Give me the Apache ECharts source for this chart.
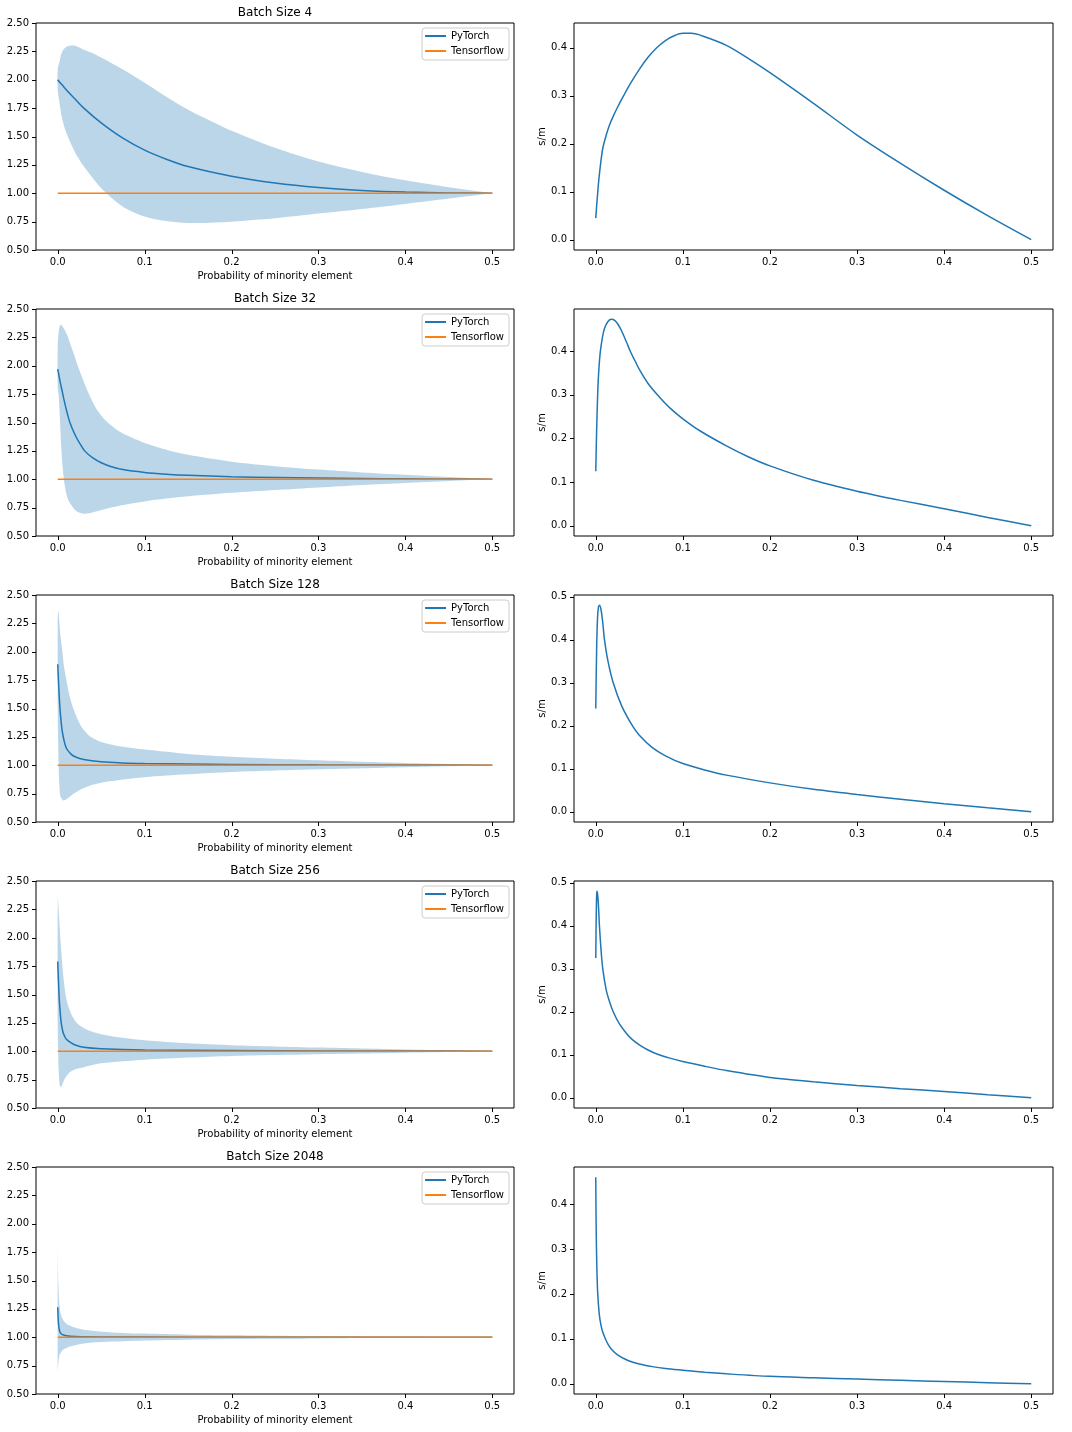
<!DOCTYPE html>
<html><head><meta charset="utf-8">
<script src="https://cdn.jsdelivr.net/npm/echarts@6/dist/echarts.min.js"></script>
<style>html,body{margin:0;padding:0;background:#fff}#c{width:1072px;height:1432px}</style>
</head><body><div id="c"></div>
<script>
// ---------- data ----------
const batchSizes = [4, 32, 128, 256, 2048];
const xTickValues = [0, 0.1, 0.2, 0.3, 0.4, 0.5];
const leftYTickValues = [0.5, 0.75, 1.0, 1.25, 1.5, 1.75, 2.0, 2.25, 2.5];
const rightYTickValues = [0, 0.1, 0.2, 0.3, 0.4, 0.5];
const tfX = [0, 0.5];
const tfY = [1.0, 1.0];

// Batch size 4
const bs4MeanX = [0, 0.002, 0.005, 0.01, 0.02, 0.03, 0.05, 0.075, 0.1, 0.125, 0.15, 0.2, 0.25, 0.3, 0.35, 0.4, 0.45, 0.5];
const bs4Mean  = [2.0, 1.98, 1.955, 1.91, 1.83, 1.75, 1.62, 1.485, 1.38, 1.30, 1.235, 1.15, 1.09, 1.05, 1.025, 1.01, 1.003, 1.0];
const bs4BandX = [0, 0.002, 0.005, 0.01, 0.02, 0.03, 0.04, 0.05, 0.075, 0.1, 0.125, 0.15, 0.175, 0.2, 0.25, 0.3, 0.35, 0.4, 0.45, 0.5];
const bs4Upper = [2.09, 2.16, 2.245, 2.29, 2.30, 2.265, 2.235, 2.195, 2.09, 1.973, 1.85, 1.735, 1.64, 1.55, 1.40, 1.279, 1.188, 1.114, 1.053, 1.0];
const bs4Lower = [1.91, 1.80, 1.66, 1.53, 1.36, 1.237, 1.136, 1.045, 0.882, 0.795, 0.755, 0.738, 0.741, 0.75, 0.78, 0.821, 0.862, 0.906, 0.953, 1.0];
const bs4RatioX = [0, 0.001, 0.003, 0.005, 0.008, 0.012, 0.016, 0.02, 0.025, 0.032, 0.04, 0.05, 0.06, 0.07, 0.08, 0.09, 0.1, 0.11, 0.125, 0.15, 0.175, 0.2, 0.25, 0.3, 0.35, 0.4, 0.45, 0.5];
const bs4Ratio  = [0.045, 0.07, 0.115, 0.15, 0.19, 0.218, 0.24, 0.257, 0.276, 0.30, 0.326, 0.355, 0.38, 0.40, 0.415, 0.425, 0.43, 0.43, 0.423, 0.405, 0.378, 0.348, 0.284, 0.218, 0.159, 0.103, 0.05, 0.0];

// Batch size 32
const bs32MeanX = [0, 0.001, 0.002, 0.003, 0.005, 0.0075, 0.01, 0.014, 0.02, 0.025, 0.031, 0.04, 0.05, 0.06, 0.075, 0.1, 0.125, 0.15, 0.2, 0.25, 0.3, 0.35, 0.4, 0.45, 0.5];
const bs32Mean  = [1.97, 1.93, 1.89, 1.85, 1.78, 1.69, 1.61, 1.50, 1.39, 1.32, 1.25, 1.19, 1.145, 1.115, 1.085, 1.06, 1.045, 1.035, 1.022, 1.016, 1.011, 1.007, 1.004, 1.002, 1.0];
const bs32BandX = [0, 0.001, 0.002, 0.003, 0.004, 0.005, 0.0065, 0.008, 0.01, 0.012, 0.015, 0.02, 0.023, 0.03, 0.036, 0.045, 0.056, 0.07, 0.085, 0.1, 0.125, 0.15, 0.2, 0.25, 0.3, 0.35, 0.4, 0.45, 0.5];
const bs32Upper = [2.18, 2.29, 2.34, 2.36, 2.358, 2.35, 2.335, 2.315, 2.285, 2.25, 2.18, 2.07, 2.0, 1.86, 1.75, 1.615, 1.51, 1.425, 1.367, 1.32, 1.26, 1.215, 1.155, 1.115, 1.085, 1.06, 1.04, 1.02, 1.0];
const bs32Lower = [1.80, 1.75, 1.62, 1.45, 1.29, 1.17, 1.04, 0.95, 0.87, 0.82, 0.78, 0.728, 0.712, 0.697, 0.70, 0.718, 0.74, 0.765, 0.787, 0.805, 0.83, 0.85, 0.88, 0.905, 0.928, 0.95, 0.968, 0.985, 1.0];
const bs32RatioX = [0, 0.001, 0.002, 0.003, 0.005, 0.0075, 0.01, 0.014, 0.018, 0.022, 0.026, 0.03, 0.035, 0.04, 0.045, 0.05, 0.06, 0.073, 0.085, 0.1, 0.12, 0.15, 0.175, 0.2, 0.25, 0.3, 0.35, 0.4, 0.45, 0.5];
const bs32Ratio  = [0.125, 0.22, 0.29, 0.34, 0.395, 0.43, 0.452, 0.468, 0.473, 0.47, 0.46, 0.445, 0.422, 0.398, 0.378, 0.358, 0.326, 0.295, 0.27, 0.245, 0.217, 0.183, 0.158, 0.137, 0.104, 0.079, 0.058, 0.039, 0.019, 0.0];

// Batch size 128
const bs128MeanX = [0, 0.001, 0.002, 0.003, 0.005, 0.0075, 0.01, 0.015, 0.02, 0.03, 0.05, 0.075, 0.1, 0.15, 0.2, 0.3, 0.4, 0.5];
const bs128Mean  = [1.89, 1.72, 1.57, 1.46, 1.31, 1.21, 1.15, 1.10, 1.075, 1.05, 1.03, 1.02, 1.015, 1.01, 1.007, 1.004, 1.002, 1.0];
const bs128BandX = [0, 0.0005, 0.001, 0.002, 0.003, 0.0054, 0.007, 0.01, 0.014, 0.018, 0.021, 0.025, 0.03, 0.037, 0.045, 0.05, 0.06, 0.075, 0.1, 0.15, 0.2, 0.25, 0.3, 0.35, 0.4, 0.45, 0.5];
const bs128Upper = [2.30, 2.36, 2.34, 2.25, 2.15, 2.00, 1.88, 1.75, 1.60, 1.50, 1.44, 1.37, 1.31, 1.255, 1.22, 1.205, 1.185, 1.162, 1.138, 1.10, 1.075, 1.058, 1.044, 1.03, 1.019, 1.009, 1.0];
const bs128Lower = [1.48, 1.20, 1.00, 0.80, 0.73, 0.695, 0.69, 0.70, 0.725, 0.75, 0.763, 0.78, 0.80, 0.82, 0.836, 0.845, 0.858, 0.875, 0.895, 0.92, 0.94, 0.953, 0.964, 0.974, 0.983, 0.991, 1.0];
const bs128RatioX = [0, 0.001, 0.002, 0.003, 0.0042, 0.006, 0.008, 0.01, 0.014, 0.02, 0.03, 0.042, 0.05, 0.065, 0.08, 0.1, 0.125, 0.15, 0.2, 0.25, 0.3, 0.35, 0.4, 0.45, 0.5];
const bs128Ratio  = [0.24, 0.38, 0.45, 0.475, 0.48, 0.47, 0.44, 0.40, 0.35, 0.30, 0.245, 0.20, 0.178, 0.149, 0.13, 0.112, 0.097, 0.085, 0.067, 0.052, 0.04, 0.029, 0.0185, 0.009, 0.0];

// Batch size 256
const bs256MeanX = [0, 0.0005, 0.001, 0.0015, 0.002, 0.003, 0.004, 0.006, 0.008, 0.01, 0.015, 0.02, 0.03, 0.05, 0.1, 0.2, 0.3, 0.4, 0.5];
const bs256Mean  = [1.79, 1.69, 1.59, 1.50, 1.43, 1.33, 1.25, 1.17, 1.13, 1.105, 1.075, 1.055, 1.035, 1.022, 1.011, 1.006, 1.003, 1.002, 1.0];
const bs256BandX = [0, 0.0005, 0.001, 0.002, 0.003, 0.0042, 0.0054, 0.007, 0.009, 0.012, 0.016, 0.022, 0.026, 0.03, 0.035, 0.04, 0.05, 0.062, 0.075, 0.1, 0.15, 0.2, 0.25, 0.3, 0.35, 0.4, 0.45, 0.5];
const bs256Upper = [2.36, 2.32, 2.25, 2.12, 2.00, 1.87, 1.75, 1.62, 1.50, 1.40, 1.32, 1.25, 1.225, 1.205, 1.186, 1.172, 1.15, 1.133, 1.12, 1.097, 1.07, 1.053, 1.042, 1.032, 1.024, 1.016, 1.008, 1.0];
const bs256Lower = [1.22, 1.00, 0.85, 0.72, 0.685, 0.69, 0.71, 0.74, 0.77, 0.80, 0.825, 0.845, 0.853, 0.86, 0.87, 0.879, 0.894, 0.904, 0.912, 0.926, 0.945, 0.959, 0.967, 0.974, 0.98, 0.987, 0.993, 1.0];
const bs256RatioX = [0, 0.0005, 0.001, 0.0015, 0.002, 0.003, 0.0042, 0.006, 0.008, 0.012, 0.016, 0.02, 0.027, 0.035, 0.042, 0.05, 0.06, 0.071, 0.085, 0.1, 0.125, 0.15, 0.2, 0.25, 0.3, 0.35, 0.4, 0.45, 0.5];
const bs256Ratio  = [0.325, 0.42, 0.47, 0.48, 0.475, 0.45, 0.40, 0.345, 0.30, 0.25, 0.222, 0.20, 0.172, 0.15, 0.135, 0.123, 0.111, 0.101, 0.092, 0.084, 0.073, 0.063, 0.047, 0.037, 0.0285, 0.021, 0.0145, 0.007, 0.0];

// Batch size 2048
const bs2048MeanX = [0, 0.0003, 0.0006, 0.001, 0.002, 0.003, 0.005, 0.01, 0.02, 0.05, 0.1, 0.2, 0.3, 0.4, 0.5];
const bs2048Mean  = [1.265, 1.20, 1.15, 1.11, 1.06, 1.04, 1.025, 1.013, 1.007, 1.003, 1.0015, 1.0008, 1.0004, 1.0002, 1.0];
const bs2048BandX = [0, 0.0003, 0.0008, 0.002, 0.004, 0.006, 0.01, 0.015, 0.02, 0.03, 0.05, 0.075, 0.1, 0.15, 0.2, 0.25, 0.3, 0.35, 0.4, 0.45, 0.5];
const bs2048Upper = [1.83, 1.62, 1.45, 1.28, 1.19, 1.155, 1.12, 1.10, 1.085, 1.065, 1.048, 1.038, 1.032, 1.023, 1.017, 1.013, 1.01, 1.007, 1.005, 1.002, 1.0];
const bs2048Lower = [0.69, 0.74, 0.78, 0.84, 0.87, 0.89, 0.905, 0.92, 0.93, 0.945, 0.958, 0.965, 0.971, 0.978, 0.984, 0.987, 0.99, 0.993, 0.996, 0.998, 1.0];
const bs2048RatioX = [0, 0.0003, 0.0008, 0.002, 0.004, 0.006, 0.008, 0.011, 0.014, 0.018, 0.025, 0.037, 0.05, 0.065, 0.08, 0.1, 0.125, 0.15, 0.2, 0.25, 0.3, 0.35, 0.4, 0.45, 0.5];
const bs2048Ratio  = [0.46, 0.38, 0.30, 0.21, 0.155, 0.13, 0.115, 0.10, 0.088, 0.0765, 0.064, 0.0516, 0.0438, 0.038, 0.0338, 0.030, 0.0255, 0.022, 0.0163, 0.0132, 0.0104, 0.0075, 0.0048, 0.0022, 0.0];

const panels = [
  {meanX: bs4MeanX, mean: bs4Mean, bandX: bs4BandX, upper: bs4Upper, lower: bs4Lower, ratioX: bs4RatioX, ratio: bs4Ratio},
  {meanX: bs32MeanX, mean: bs32Mean, bandX: bs32BandX, upper: bs32Upper, lower: bs32Lower, ratioX: bs32RatioX, ratio: bs32Ratio},
  {meanX: bs128MeanX, mean: bs128Mean, bandX: bs128BandX, upper: bs128Upper, lower: bs128Lower, ratioX: bs128RatioX, ratio: bs128Ratio},
  {meanX: bs256MeanX, mean: bs256Mean, bandX: bs256BandX, upper: bs256Upper, lower: bs256Lower, ratioX: bs256RatioX, ratio: bs256Ratio},
  {meanX: bs2048MeanX, mean: bs2048Mean, bandX: bs2048BandX, upper: bs2048Upper, lower: bs2048Lower, ratioX: bs2048RatioX, ratio: bs2048Ratio}
];

// ---------- layout / style ----------
const FONT = 'DejaVu Sans';
const BLUE = '#1f77b4', ORANGE = '#ff7f0e', BAND = 'rgba(31,119,180,0.3)';
const rowTops = [23, 309, 595, 881, 1167];
const plotH = 227;
const TICK_LEN = 4;
const leftL = 36, leftW = 478, rightL = 574, rightW = 479;
const pair = (xs, ys) => xs.map((x, i) => [x, ys[i]]);

const grid = [], xAxis = [], yAxis = [], series = [], title = [], legend = [];

function axisCommon() {
  return {
    axisLine: {show: false, onZero: false},
    splitLine: {show: false},
    axisTick: {show: false},
    axisLabel: {color: '#000', fontFamily: FONT, fontSize: 10, margin: 7}
  };
}

function bandRenderer(xs, up, lo) {
  return function (params, api) {
    if (params.dataIndex !== 0) return null;
    const pts = [];
    for (let i = 0; i < xs.length; i++) pts.push(api.coord([xs[i], up[i]]));
    for (let i = xs.length - 1; i >= 0; i--) pts.push(api.coord([xs[i], lo[i]]));
    return {type: 'polygon', shape: {points: pts, smooth: 0.3}, style: {fill: BAND, stroke: null}};
  };
}

// outward tick marks placed through the axis scales
function tickRenderer(xt, yt) {
  return function (params, api) {
    if (params.dataIndex !== 0) return null;
    const cs = params.coordSys;
    const children = [];
    const bottom = cs.y + cs.height, left = cs.x;
    xt.forEach(v => {
      const px = Math.round(api.coord([v, yt[0]])[0]) + 0.5;
      children.push({type: 'line', shape: {x1: px, y1: bottom, x2: px, y2: bottom + TICK_LEN},
        style: {stroke: '#000', lineWidth: 1}});
    });
    yt.forEach(v => {
      const py = Math.round(api.coord([xt[0], v])[1]) + 0.5;
      children.push({type: 'line', shape: {x1: left - TICK_LEN, y1: py, x2: left, y2: py},
        style: {stroke: '#000', lineWidth: 1}});
    });
    return {type: 'group', children};
  };
}

panels.forEach((p, r) => {
  const top = rowTops[r];
  const gL = r * 2, gR = r * 2 + 1;
  grid.push({left: leftL, top: top, width: leftW, height: plotH, show: true, borderColor: '#000', borderWidth: 1, backgroundColor: 'transparent'});
  grid.push({left: rightL, top: top, width: rightW, height: plotH, show: true, borderColor: '#000', borderWidth: 1, backgroundColor: 'transparent'});

  [gL, gR].forEach((g) => {
    const c = axisCommon();
    const ax = Object.assign({type: 'value', gridIndex: g, position: 'bottom', min: -0.025, max: 0.525}, c);
    ax.axisLabel.customValues = xTickValues;
    ax.axisLabel.formatter = (v) => v.toFixed(1);
    if (g === gL) {
      ax.name = 'Probability of minority element';
      ax.nameLocation = 'middle';
      ax.nameGap = 21;
      ax.nameTextStyle = {color: '#000', fontFamily: FONT, fontSize: 10};
    }
    xAxis.push(ax);
  });

  const cl = axisCommon();
  const yl = Object.assign({type: 'value', gridIndex: gL, position: 'left', min: 0.5, max: 2.5}, cl);
  yl.axisLabel.customValues = leftYTickValues;
  yl.axisLabel.formatter = (v) => v.toFixed(2);
  yAxis.push(yl);

  const mn = Math.min(...p.ratio), mx = Math.max(...p.ratio);
  const pad = (mx - mn) * 0.05;
  const rMin = mn - pad, rMax = mx + pad;
  const ticks = rightYTickValues.filter(v => v >= rMin && v <= rMax);
  const cr = axisCommon();
  const yr = Object.assign({type: 'value', gridIndex: gR, position: 'left', min: rMin, max: rMax,
    name: 's/m', nameLocation: 'middle', nameGap: 25,
    nameTextStyle: {color: '#000', fontFamily: FONT, fontSize: 10}}, cr);
  yr.axisLabel.customValues = ticks;
  yr.axisLabel.formatter = (v) => v.toFixed(1);
  yAxis.push(yr);

  title.push({text: 'Batch Size ' + batchSizes[r], left: leftL + leftW / 2, textAlign: 'center', top: top - 16, padding: 0,
    textStyle: {color: '#000', fontFamily: FONT, fontSize: 12, fontWeight: 'normal'}});

  legend.push({data: ['PyTorch', 'Tensorflow'], orient: 'vertical', right: 563, top: top + 5,
    icon: 'rect', itemWidth: 21, itemHeight: 2, itemGap: 3,
    padding: [2, 5, 3, 3], borderColor: '#cccccc', borderWidth: 1, borderRadius: 3,
    backgroundColor: 'rgba(255,255,255,0.8)', selectedMode: false,
    textStyle: {color: '#000', fontFamily: FONT, fontSize: 10, lineHeight: 12}});

  series.push({type: 'custom', name: 'band' + r, xAxisIndex: gL, yAxisIndex: gL, clip: true, silent: true,
    renderItem: bandRenderer(p.bandX, p.upper, p.lower),
    encode: {x: 0, y: [1, 2]},
    data: p.bandX.map((x, i) => [x, p.lower[i], p.upper[i]])});
  series.push({type: 'line', name: 'PyTorch', xAxisIndex: gL, yAxisIndex: gL, data: pair(p.meanX, p.mean),
    showSymbol: false, symbol: 'none', smooth: 0.3, color: BLUE, itemStyle: {color: BLUE},
    lineStyle: {color: BLUE, width: 1.5}, clip: true});
  series.push({type: 'line', name: 'Tensorflow', xAxisIndex: gL, yAxisIndex: gL, data: pair(tfX, tfY),
    showSymbol: false, symbol: 'none', color: ORANGE, itemStyle: {color: ORANGE},
    lineStyle: {color: ORANGE, width: 1.5}, clip: true});
  series.push({type: 'line', name: 's/m ' + r, xAxisIndex: gR, yAxisIndex: gR, data: pair(p.ratioX, p.ratio),
    showSymbol: false, symbol: 'none', smooth: 0.3, color: BLUE,
    lineStyle: {color: BLUE, width: 1.5}, clip: true});

  // tick marks for both panels
  series.push({type: 'custom', name: 'ticksL' + r, xAxisIndex: gL, yAxisIndex: gL, clip: false, silent: true,
    renderItem: tickRenderer(xTickValues, leftYTickValues), data: [[xTickValues[0], leftYTickValues[0]]]});
  series.push({type: 'custom', name: 'ticksR' + r, xAxisIndex: gR, yAxisIndex: gR, clip: false, silent: true,
    renderItem: tickRenderer(xTickValues, ticks), data: [[xTickValues[0], ticks[0]]]});
});

const chart = echarts.init(document.getElementById('c'), null, {renderer: 'canvas'});
chart.setOption({animation: false, backgroundColor: '#fff', textStyle: {fontFamily: FONT},
  title, legend, grid, xAxis, yAxis, series});
</script></body></html>
